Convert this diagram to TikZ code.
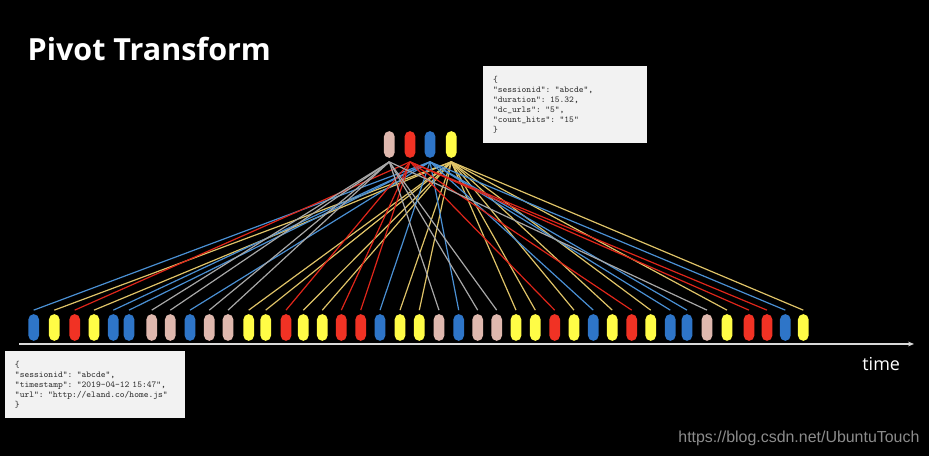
\documentclass[tikz,border=0pt]{standalone}
\usepackage{fontspec}
\setmainfont{Open Sans}
\newfontfamily\urlfont{Liberation Sans}
\usetikzlibrary{arrows.meta}
\definecolor{pillblue}{HTML}{2E75C8}
\definecolor{pillyellow}{HTML}{FFFC46}
\definecolor{pillred}{HTML}{F13224}
\definecolor{pillpink}{HTML}{DFB8AE}
\definecolor{linkblue}{HTML}{4A90D4}
\definecolor{linkyellow}{HTML}{E0C468}
\definecolor{linkred}{HTML}{E0261A}
\definecolor{linkgray}{HTML}{A8A8A8}
\tikzset{
  pill/.style={rectangle,rounded corners=2.67bp,minimum width=5.35bp,minimum height=13.35bp,inner sep=0pt,outer xsep=0pt,outer ysep=2bp},
  B/.style={pill,fill=pillblue},
  Y/.style={pill,fill=pillyellow},
  R/.style={pill,fill=pillred},
  P/.style={pill,fill=pillpink},
  lb/.style={linkblue,line width=0.6pt},
  ly/.style={linkyellow,line width=0.6pt},
  lr/.style={linkred,line width=0.6pt},
  lg/.style={linkgray,line width=0.6pt},
  jsonbox/.style={fill=black!5,text=black!80,font=\ttfamily\fontsize{4.52}{5.02}\selectfont,align=left,inner xsep=4.8bp,inner ysep=0pt,anchor=north west}
}
\begin{document}
\begin{tikzpicture}[x=0.5bp,y=-0.5bp]
  \fill[black] (0,0) rectangle (929,456);
  \node[anchor=base west,inner sep=0pt,text=white,font=\fontsize{15.3}{18}\selectfont\bfseries] (title) at (27.3,60.5) {Pivot Transform};
  \node[B] (p3) at (430,144.5) {};
  \node[R] (p2) at (410,144.5) {};
  \node[P] (p1) at (389.3,144.5) {};
  \node[Y] (p4) at (451.3,144.5) {};
  \node[B] (s1) at (33.7,327.5) {};
  \node[Y] (s2) at (54.3,327.5) {};
  \node[R] (s3) at (74.7,327.5) {};
  \node[Y] (s4) at (94,327.5) {};
  \node[B] (s5) at (113.3,327.5) {};
  \node[B] (s6) at (129,327.5) {};
  \node[P] (s7) at (151.7,327.5) {};
  \node[P] (s8) at (170.3,327.5) {};
  \node[B] (s9) at (190,327.5) {};
  \node[P] (s10) at (209.3,327.5) {};
  \node[P] (s11) at (228,327.5) {};
  \node[Y] (s12) at (248.7,327.5) {};
  \node[Y] (s13) at (265.7,327.5) {};
  \node[R] (s14) at (286,327.5) {};
  \node[Y] (s15) at (303.3,327.5) {};
  \node[Y] (s16) at (322.3,327.5) {};
  \node[R] (s17) at (341.3,327.5) {};
  \node[R] (s18) at (360.7,327.5) {};
  \node[B] (s19) at (380,327.5) {};
  \node[Y] (s20) at (400,327.5) {};
  \node[Y] (s21) at (419.3,327.5) {};
  \node[P] (s22) at (439,327.5) {};
  \node[B] (s23) at (458.7,327.5) {};
  \node[P] (s24) at (477.7,327.5) {};
  \node[P] (s25) at (496.7,327.5) {};
  \node[Y] (s26) at (516,327.5) {};
  \node[Y] (s27) at (535.3,327.5) {};
  \node[R] (s28) at (554.7,327.5) {};
  \node[Y] (s29) at (574,327.5) {};
  \node[B] (s30) at (593.3,327.5) {};
  \node[Y] (s31) at (612.3,327.5) {};
  \node[R] (s32) at (631.7,327.5) {};
  \node[Y] (s33) at (650.7,327.5) {};
  \node[B] (s34) at (670.3,327.5) {};
  \node[B] (s35) at (687,327.5) {};
  \node[P] (s36) at (707,327.5) {};
  \node[Y] (s37) at (727,327.5) {};
  \node[R] (s38) at (749,327.5) {};
  \node[R] (s39) at (767,327.5) {};
  \node[B] (s40) at (785.3,327.5) {};
  \node[Y] (s41) at (803.3,327.5) {};
  \draw[lb](s1.north)--(p3.south);
  \draw[ly](s2.north)--(p4.south);
  \draw[lr](s3.north)--(p2.south);
  \draw[ly](s4.north)--(p4.south);
  \draw[lb](s5.north)--(p3.south);
  \draw[lb](s6.north)--(p3.south);
  \draw[lg](s7.north)--(p1.south);
  \draw[lg](s8.north)--(p1.south);
  \draw[lb](s9.north)--(p3.south);
  \draw[lg](s10.north)--(p1.south);
  \draw[lg](s11.north)--(p1.south);
  \draw[ly](s12.north)--(p4.south);
  \draw[ly](s13.north)--(p4.south);
  \draw[lr](s14.north)--(p2.south);
  \draw[ly](s15.north)--(p4.south);
  \draw[ly](s16.north)--(p4.south);
  \draw[lr](s17.north)--(p2.south);
  \draw[lr](s18.north)--(p2.south);
  \draw[lb](s19.north)--(p3.south);
  \draw[ly](s20.north)--(p4.south);
  \draw[ly](s21.north)--(p4.south);
  \draw[lg](s22.north)--(p1.south);
  \draw[lb](s23.north)--(p3.south);
  \draw[lg](s24.north)--(p1.south);
  \draw[lg](s25.north)--(p1.south);
  \draw[ly](s26.north)--(p4.south);
  \draw[ly](s27.north)--(p4.south);
  \draw[lr](s28.north)--(p2.south);
  \draw[ly](s29.north)--(p4.south);
  \draw[lb](s30.north)--(p3.south);
  \draw[ly](s31.north)--(p4.south);
  \draw[lr](s32.north)--(p2.south);
  \draw[ly](s33.north)--(p4.south);
  \draw[lb](s34.north)--(p3.south);
  \draw[lb](s35.north)--(p3.south);
  \draw[lg](s36.north)--(p1.south);
  \draw[ly](s37.north)--(p4.south);
  \draw[lr](s38.north)--(p2.south);
  \draw[lr](s39.north)--(p2.south);
  \draw[lb](s40.north)--(p3.south);
  \draw[ly](s41.north)--(p4.south);
  \coordinate (t0) at (19,344);
  \coordinate (t1) at (914,344);
  \draw[-{Stealth[length=3bp,width=2.4bp]},black!15,line width=0.55pt](t0)--(t1);
  \node[anchor=base west,inner sep=0pt,text=white,font=\fontsize{9}{11}\selectfont] (time) at (862,371) {time};
  \node[jsonbox,text width=80.4bp,minimum height=33.5bp] (rawbox) at (5,351) {\{\\"sessionid": "abcde",\\"timestamp": "2019-04-12 15:47",\\"url": "http://eland.co/home.js"\\\}};
  \node[jsonbox,text width=72.3bp,minimum height=38.3bp] (sessionbox) at (483,66) {\{\\"sessionid": "abcde",\\"duration": 15.32,\\"dc\_urls": "5",\\"count\_hits": "15"\\\}};
  \node[anchor=base west,inner sep=0pt,text=black!45,font=\urlfont\fontsize{8}{10}\selectfont] (url) at (678,443) {https://blog.csdn.net/UbuntuTouch};
\end{tikzpicture}
\end{document}
